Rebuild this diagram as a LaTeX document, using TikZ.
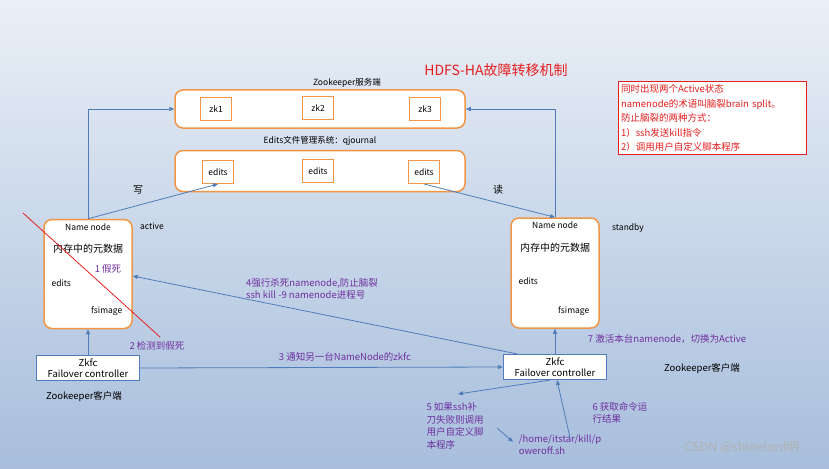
\documentclass[tikz,border=0pt]{standalone}
\usepackage{fontspec}
\setmainfont{Noto Sans CJK SC}
\usetikzlibrary{arrows.meta}
\definecolor{bl}{RGB}{80,125,185}
\definecolor{org}{RGB}{240,150,70}
\definecolor{pur}{RGB}{112,48,160}
\definecolor{rd}{RGB}{230,30,30}
\tikzset{
 big/.style={draw=org,line width=1.5pt,rounded corners=8pt,fill=white},
 sm/.style={draw=org,line width=1pt,fill=white,minimum width=31pt,minimum height=23pt,font=\fontsize{8.5}{9}\selectfont,inner sep=0pt},
 zk/.style={draw=bl,line width=1.2pt,fill=white,font=\fontsize{9.5}{10.5}\selectfont,align=center,inner sep=1pt,minimum width=103pt,minimum height=25pt},
 arr/.style={draw=bl,line width=0.8pt,-{Triangle[length=5pt,width=4pt]}},
 tx/.style={font=\fontsize{8.5}{10}\selectfont,inner sep=0pt},
 pu/.style={font=\fontsize{9.5}{12.5}\selectfont,text=pur,inner sep=0pt,align=left},
}
\begin{document}
\begin{tikzpicture}[x=1pt,y=-1pt]
\shade[top color=bl!12!white,bottom color=bl!50!white] (0,0) rectangle (829,468);
\useasboundingbox (0,0) rectangle (829,468);
\node[text=rd,font=\fontsize{14}{15}\selectfont] (title) at (496,70) {HDFS-HA故障转移机制};
\node[draw=rd,line width=1pt,fill=white,text=rd,align=left,font=\fontsize{9.5}{14.5}\selectfont,inner sep=3pt,text width=182pt] (note) at (712,118) {同时出现两个Active状态\\namenode的术语叫脑裂brain split。\\防止脑裂的两种方式：\\1）ssh发送kill指令\\2）调用用户自定义脚本程序};
% zookeeper server
\node[tx] (zkl) at (347,83) {Zookeeper服务端};
\node[big,minimum width=290pt,minimum height=38pt] (zkb) at (320,109) {};
\node[sm] (zk1) at (216,109) {zk1};
\node[sm] (zk2) at (318,108) {zk2};
\node[sm] (zk3) at (425,109) {zk3};
\node[tx] (edl) at (320,141) {Edits文件管理系统：qjournal};
\node[big,minimum width=290pt,minimum height=41pt] (edb) at (320,171) {};
\node[sm] (e1) at (218,172) {edits};
\node[sm] (e2) at (318,171) {edits};
\node[sm] (e3) at (424,172) {edits};
% name nodes
\node[big,minimum width=88pt,minimum height=109pt] (nn1) at (88,274) {};
\node[big,minimum width=88pt,minimum height=110pt] (nn2) at (555,273) {};
\foreach \n in {nn1,nn2}{
 \node[tx] at ([yshift=-8pt]\n.north) {Name node};
 \node[font=\fontsize{10}{11}\selectfont,inner sep=0pt] at ([yshift=-30pt]\n.north) {内存中的元数据};
 \node[tx] at ([xshift=18pt,yshift=-64pt]\n.north west) {edits};
 \node[tx] at ([xshift=-26pt,yshift=18pt]\n.south east) {fsimage};
}
\node[tx] (act) at (152,226) {active};
\node[tx] (stb) at (628,228) {standby};
\node[pu] (l1) at (108,269) {1 假死};
\draw[rd,line width=0.8pt] (23,213) -- (160,337);
% zkfc
\node[zk] (zf1) at (88,368) {Zkfc\\Failover controller};
\node[zk] (zf2) at (555,367) {Zkfc\\Failover controller};
\node[font=\fontsize{9.5}{10}\selectfont] (zc1) at (84,397) {Zookeeper客户端};
\node[font=\fontsize{9.5}{10}\selectfont] (zc2) at (702,369) {Zookeeper客户端};
% arrows
\draw[arr] (nn1.north) |- (zkb.west);
\draw[arr] (nn2.north) |- (zkb.east);
\draw[arr] (nn1.north) -- (e1.south);
\draw[arr] (e3.south) -- (nn2.north);
\node[font=\fontsize{10}{11}\selectfont] (w) at (138,190) {写};
\node[font=\fontsize{10}{11}\selectfont] (r) at (498,190) {读};
\draw[arr] (zf1.north) -- (nn1.south);
\node[pu] (l2) at (157,346) {2 检测到假死};
\draw[arr] (zf1.east) -- (zf2.west);
\node[pu] (l3) at (345,357) {3 通知另一台NameNode的zkfc};
\draw[arr] ([xshift=-38pt]zf2.north) -- ([yshift=-2pt]nn1.east);
\node[pu] (l4) at (312,289) {4强行杀死namenode,防止脑裂\\ssh kill -9 namenode进程号};
\draw[arr] (zf2.north) -- (nn2.south);
\node[pu] (l7) at (667,339) {7 激活本台namenode，切换为Active};
\coordinate (c5) at (458,394);
\draw[arr] ([xshift=-5pt]zf2.south) -- (c5);
\node[pu] (l5) at (455,426) {5 如果ssh补\\刀失败则调用\\用户自定义脚\\本程序};
\node[pu] (l6) at (620,413) {6 获取命令运\\行结果};
\node[pu] (sh) at (560,445) {/home/itstar/kill/p\\oweroff.sh};
\draw[arr] ([xshift=10pt,yshift=-3pt]sh.north) -- ([xshift=2pt]zf2.south);
\coordinate (c5b) at (497,428);
\draw[arr] (c5b) -- (513,442);
\node[text=gray!60,font=\fontsize{12.5}{13}\selectfont] (wm) at (742,448) {CSDN @shinelord明};
\end{tikzpicture}
\end{document}
